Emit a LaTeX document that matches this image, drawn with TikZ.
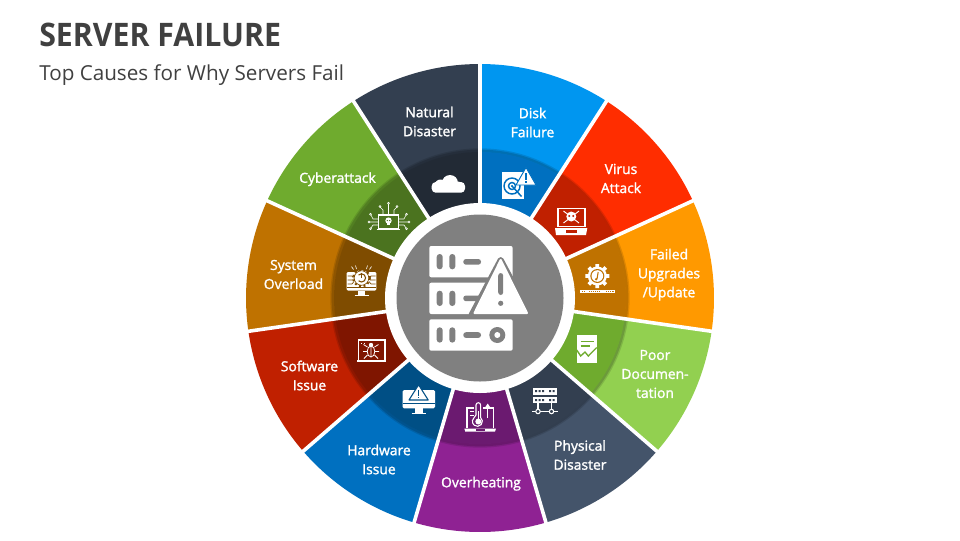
\documentclass[tikz,border=0pt]{standalone}
\usepackage{fontspec}
\setmainfont{Open Sans}
\newfontfamily\lblfont[FakeBold=1.6]{Open Sans}
\newfontfamily\titlefont[FakeStretch=0.935]{Open Sans}
\definecolor{diskA}{RGB}{0,150,240}
\definecolor{diskB}{RGB}{0,112,192}
\definecolor{virusA}{RGB}{255,45,0}
\definecolor{virusB}{RGB}{192,32,0}
\definecolor{failA}{RGB}{255,153,0}
\definecolor{failB}{RGB}{191,114,0}
\definecolor{poorA}{RGB}{146,208,80}
\definecolor{poorB}{RGB}{111,171,46}
\definecolor{physA}{RGB}{68,84,106}
\definecolor{physB}{RGB}{51,63,80}
\definecolor{heatA}{RGB}{143,34,147}
\definecolor{heatB}{RGB}{107,26,112}
\definecolor{hardA}{RGB}{0,112,192}
\definecolor{hardB}{RGB}{0,79,133}
\definecolor{softA}{RGB}{192,32,0}
\definecolor{softB}{RGB}{127,21,0}
\definecolor{sysA}{RGB}{191,114,0}
\definecolor{sysB}{RGB}{127,76,0}
\definecolor{cybA}{RGB}{111,171,46}
\definecolor{cybB}{RGB}{75,115,31}
\definecolor{natA}{RGB}{51,63,80}
\definecolor{natB}{RGB}{34,42,53}
\definecolor{hubgray}{RGB}{128,128,128}
\definecolor{titleink}{RGB}{64,64,64}
\def\seg#1#2#3#4{\fill[#4] (480,298) -- ++(#1:#3) arc (#1:#2:#3) -- cycle;}
\tikzset{
  lbl/.style={text=white,align=center,font=\lblfont\fontsize{10.4pt}{14.25pt}\selectfont,inner sep=0pt},
  gap/.style={draw=white,line width=2.7pt},
  wline/.style={draw=white,line width=0.8pt},
  thin wline/.style={draw=white,line width=0.45pt}
}
\begin{document}
\begin{tikzpicture}[x=0.75pt,y=0.75pt,yscale=-1,xscale=1]
	\useasboundingbox (0,0) rectangle (960,540);
	\fill[white] (0,0) rectangle (960,540);
	% outer ring
	\seg{-90}{-57.27}{234}{diskA}
	\seg{-57.27}{-24.55}{234}{virusA}
	\seg{-24.55}{8.18}{234}{failA}
	\seg{8.18}{40.91}{234}{poorA}
	\seg{40.91}{73.64}{234}{physA}
	\seg{73.64}{106.36}{234}{heatA}
	\seg{106.36}{139.09}{234}{hardA}
	\seg{139.09}{171.82}{234}{softA}
	\seg{171.82}{204.55}{234}{sysA}
	\seg{204.55}{237.27}{234}{cybA}
	\seg{237.27}{270}{234}{natA}
	\draw[black,opacity=0.12,line width=4pt] (480,298) circle (147);
	\draw[black,opacity=0.15,line width=2pt] (480,298) circle (147);
	% inner ring
	\seg{-90}{-57.27}{146}{diskB}
	\seg{-57.27}{-24.55}{146}{virusB}
	\seg{-24.55}{8.18}{146}{failB}
	\seg{8.18}{40.91}{146}{poorB}
	\seg{40.91}{73.64}{146}{physB}
	\seg{73.64}{106.36}{146}{heatB}
	\seg{106.36}{139.09}{146}{hardB}
	\seg{139.09}{171.82}{146}{softB}
	\seg{171.82}{204.55}{146}{sysB}
	\seg{204.55}{237.27}{146}{cybB}
	\seg{237.27}{270}{146}{natB}
	% gaps
	\draw[gap] (480,298) -- ++(-90:236);
	\draw[gap] (480,298) -- ++(-57.27:236);
	\draw[gap] (480,298) -- ++(-24.55:236);
	\draw[gap] (480,298) -- ++(8.18:236);
	\draw[gap] (480,298) -- ++(40.91:236);
	\draw[gap] (480,298) -- ++(73.64:236);
	\draw[gap] (480,298) -- ++(106.36:236);
	\draw[gap] (480,298) -- ++(139.09:236);
	\draw[gap] (480,298) -- ++(171.82:236);
	\draw[gap] (480,298) -- ++(204.55:236);
	\draw[gap] (480,298) -- ++(237.27:236);
	% hub
	\fill[white] (480,298) circle (95);
	\fill[hubgray] (480,298) circle (83.5);
	\fill[white,rounded corners=1.5pt] (429.3,246) rectangle (512.7,277.3);
	\fill[white,rounded corners=1.5pt] (429.3,282.7) rectangle (495,314);
	\fill[white,rounded corners=1.5pt] (429.3,319.3) rectangle (512.7,350.7);
	\fill[hubgray,rounded corners=2.2pt] (436.7,254) rectangle (442.7,269.3);
	\fill[hubgray,rounded corners=2.2pt] (449.3,254) rectangle (455.3,269.3);
	\fill[hubgray,rounded corners=2pt] (463.3,259) rectangle (481,264.7);
	\fill[hubgray,rounded corners=2.2pt] (436.7,290.7) rectangle (442.7,306);
	\fill[hubgray,rounded corners=2.2pt] (449.3,290.7) rectangle (455.3,306);
	\fill[hubgray,rounded corners=2pt] (463.3,295.5) rectangle (481,301.2);
	\fill[hubgray,rounded corners=2.2pt] (436.7,327.3) rectangle (442.7,342.6);
	\fill[hubgray,rounded corners=2.2pt] (449.3,327.3) rectangle (455.3,342.6);
	\fill[hubgray,rounded corners=2pt] (463.3,332.2) rectangle (481,337.9);
	\fill[hubgray] (497.3,335) circle (8);
	\fill[white] (497.3,335) circle (3);
	\draw[hubgray,fill=white,line width=4.5pt,line join=round] (500.7,260) -- (530,315) -- (471.5,315) -- cycle;
	\fill[white,line join=round,draw=white,line width=1.5pt] (500.7,260) -- (527,313) -- (474.5,313) -- cycle;
	\fill[hubgray,rounded corners=2pt] (498.2,273) rectangle (503.2,295);
	\fill[hubgray] (500.7,303.3) circle (2.6);
	% natural disaster cloud
	\fill[white,rounded corners=3pt] (431.7,182) rectangle (465,192.7);
	\fill[white] (440.5,185.5) circle (6);
	\fill[white] (450,183) circle (8);
	\fill[white] (458.5,186.5) circle (5);
	% disk
	\fill[white] (502,172.3) rectangle (524.3,199.3);
	\draw[diskB,line width=1.1pt] (512,186) circle (8);
	\draw[diskB,line width=1.1pt] (512,186) circle (3.5);
	\fill[diskB] (512,186) circle (1.2);
	\draw[diskB,line width=1.1pt] (512,186) -- (521.5,196.5);
	\draw[diskB,fill=white,line width=0.7pt,line join=round] (526,167.5) -- (536,185) -- (516,185) -- cycle;
	\draw[diskB,line width=1pt] (526,173) -- (526,179.5) (526,181) -- (526,182.5);
	% virus laptop
	\draw[wline,fill=virusB] (558,208.5) rectangle (585,226.5);
	\fill[white] (555,228) -- (587.3,228) -- (586,235) -- (556,235) -- cycle;
	\fill[virusB] (566,230) rectangle (576.5,233);
	\draw[white,line width=0.7pt] (563.5,211) -- (579,223) (579,211) -- (563.5,223);
	\fill[white] (571.3,216.5) circle (5);
	\fill[virusB] (569.3,216) circle (1.1) (573.3,216) circle (1.1);
	% upgrade gear
	\draw[white,line width=2.8pt] (585.3,276) -- (609.3,276) (597.3,264) -- (597.3,288) (588.8,267.5) -- (605.8,284.5) (605.8,267.5) -- (588.8,284.5);
	\fill[white] (597.3,276) circle (9.5);
	\fill[failB] (597.3,276) circle (7);
	\fill[white] (597.3,276) circle (5.8);
	\draw[failB,line width=0.8pt] (598.2,272) -- (597,279);
	\fill[failB] (596.2,279.2) circle (1.3);
	\draw[thin wline] (580,290) rectangle (614,292.7);
	\draw[white,line width=1pt,dash pattern=on 1pt off 0.6pt] (581,291.35) -- (613,291.35);
	% poor documentation page
	\fill[white] (576.7,335) -- (596.7,335) -- (596.7,362.7) -- (576.7,362.7) -- cycle;
	\draw[poorB,line width=0.8pt] (580.5,341.7) -- (593.5,341.7) (580.5,346) -- (590,346);
	\draw[poorB,line width=1pt] (576.7,350) -- (580.7,356) -- (585,352) -- (588.3,356) -- (596.7,347.5);
	% physical disaster rack
	\fill[white] (532.7,387.7) rectangle (557.3,394.7);
	\fill[white] (532.7,396.5) rectangle (557.3,403.3);
	\fill[physB] (535,390) rectangle (537,392) (538.5,390) rectangle (540.5,392) (542,390) rectangle (544,392) (549,390) rectangle (551,392) (552.5,390) rectangle (554.5,392);
	\fill[physB] (535,399) rectangle (537,401) (538.5,399) rectangle (540.5,401) (542,399) rectangle (544,401) (549,399) rectangle (551,401) (552.5,399) rectangle (554.5,401);
	\draw[wline] (538,403) -- (538,411) (551.5,403) -- (551.5,411) (532,411.5) -- (558,411.5);
	\draw[wline,fill=physB] (538,411.5) circle (2.2);
	\draw[wline,fill=physB] (551.5,411.5) circle (2.2);
	% overheating laptop
	\draw[wline] (467,428) -- (467,408) -- (474,408) (483,408) -- (493.3,408) -- (493.3,428);
	\fill[white] (464.3,428.5) -- (496,428.5) -- (495,431.7) -- (465.3,431.7) -- cycle;
	\fill[heatB] (475.5,429.3) rectangle (485,430.5);
	\draw[white,fill=heatB,line width=0.8pt] (476,415) -- (476,405) arc (180:360:2.3) -- (480.6,415) -- (480.6,417.5) arc (-50:230:5) -- cycle;
	\fill[white] (478.3,421.5) circle (3);
	\draw[wline] (478.3,411) -- (478.3,421);
	\draw[wline] (487.7,418) -- (487.7,406);
	\fill[white] (484.7,408) -- (487.7,403.5) -- (490.7,408) -- cycle;
	\draw[thin wline] (470,407.5) -- (473.5,407.5) (470,411.5) -- (473.5,411.5) (470,415.5) -- (473.5,415.5);
	% hardware monitor
	\fill[white,rounded corners=1pt] (402.7,390) rectangle (435,408.3);
	\draw[hardB,line width=0.6pt] (402.7,403.5) -- (435,403.5);
	\fill[white] (415,408) rectangle (423.3,413);
	\draw[wline] (411.7,413.7) -- (426,413.7);
	\draw[hardB,fill=white,line width=0.8pt,line join=round] (418.6,384.8) -- (428.2,400) -- (409,400) -- cycle;
	\draw[hardB,line width=1pt] (418.6,390) -- (418.6,395.5) (418.6,396.8) -- (418.6,398.2);
	% software bug laptop
	\draw[wline] (358.3,360) -- (358.3,340) -- (385,340) -- (385,360);
	\fill[white] (357.3,360.2) rectangle (386,361.7);
	\draw[white,line width=0.6pt,fill=softB] (371,351.5) ellipse (3.8 and 5.5);
	\fill[white] (371,345) circle (2.2);
	\draw[white,line width=0.6pt] (367.5,347) -- (363.5,344.5) (367.2,351.5) -- (363,351.5) (367.5,355) -- (364,358.5) (374.5,347) -- (378.5,344.5) (374.8,351.5) -- (379,351.5) (374.5,355) -- (378,358.5) (371,347) -- (371,357);
	\draw[thin wline,dotted] (361,343) -- (365,343);
	% system overload monitor
	\fill[white,rounded corners=0.8pt] (346.7,272) rectangle (376.3,290.5);
	\draw[sysB,line width=0.5pt] (346.7,287) -- (376.3,287);
	\draw[sysB,line width=0.5pt] (347.5,276) -- (352,276) -- (354,278.5) (347.5,280) -- (353,280) (347.5,284) -- (352,284) -- (354,281.5);
	\draw[sysB,line width=0.5pt] (375.5,276) -- (371,276) -- (369,278.5) (375.5,280) -- (370,280) (375.5,284) -- (371,284) -- (369,281.5);
	\fill[white] (361.5,278) circle (8);
	\draw[sysB,line width=0.5pt] (361.5,278) circle (7.3);
	\draw[sysB,line width=1.6pt,dash pattern=on 1.4pt off 2pt] (361.5,278) circle (8.3);
	\draw[sysB,line width=0.8pt] (358.6,275) arc (225:495:4.1);
	\draw[sysB,line width=0.8pt] (361.5,272.5) -- (361.5,277.5);
	\fill[white] (358,290.5) rectangle (365,294.5);
	\draw[wline] (354.5,295.3) -- (368.5,295.3);
	\draw[thin wline] (351.5,266.5) -- (353.5,269.5) (355.5,265.5) -- (356.5,269) (371.5,266.5) -- (369.5,269.5) (367.5,265.5) -- (366.5,269);
	% cyberattack laptop
	\draw[wline,fill=cybB] (378.8,215) rectangle (398.3,228.3);
	\draw[wline] (376.7,229.3) -- (400,229.3);
	\fill[white] (388.5,220.6) circle (3.2);
	\fill[white] (386.8,222.8) rectangle (390.2,225);
	\fill[cybB] (387.3,220.5) circle (0.7) (389.7,220.5) circle (0.7);
	\draw[thin wline] (383,215) -- (383,210) -- (380,207) (388.5,215) -- (388.5,204) (394,215) -- (394,210) -- (397,207);
	\draw[thin wline] (378.8,219) -- (373,219) -- (371,215) (378.8,222) -- (370,222) (378.8,225) -- (373,225) -- (371,228);
	\draw[thin wline] (398.3,219) -- (404,219) -- (406,215) (398.3,222) -- (408,222) (398.3,225) -- (404,225) -- (406,228);
	\draw[thin wline] (380,206.5) circle (1) (388.5,203.3) circle (1) (397,206.5) circle (1) (370.5,214.3) circle (1) (369,222) circle (1) (370.5,228.7) circle (1) (406.5,214.3) circle (1) (409,222) circle (1) (406.5,228.7) circle (1);
	% text
	\node[anchor=west,inner sep=0pt,text=titleink,font=\titlefont\bfseries\fontsize{24.3pt}{29pt}\selectfont] (titleA) at (39,34.5) {SERVER FAILURE};
	\node[anchor=west,inner sep=0pt,text=titleink,font=\fontsize{15.5pt}{19pt}\selectfont] (titleB) at (39,75) {Top Causes for Why Servers Fail};
	\node[lbl] (lblNat) at (429.5,121.5) {Natural\\Disaster};
	\node[lbl] (lblDisk) at (532.5,122.5) {Disk\\Failure};
	\node[lbl] (lblVirus) at (621,178.5) {Virus\\Attack};
	\node[lbl] (lblFail) at (669,274.7) {Failed\\Upgrades\\/Update};
	\node[lbl] (lblPoor) at (655,374) {Poor\\Documen-\\tation};
	\node[lbl] (lblPhys) at (580,455) {Physical\\Disaster};
	\node[lbl] (lblHeat) at (481,483.7) {Overheating};
	\node[lbl] (lblHard) at (379,459.5) {Hardware\\Issue};
	\node[lbl] (lblSoft) at (309.5,375.5) {Software\\Issue};
	\node[lbl] (lblSys) at (293.5,274.5) {System\\Overload};
	\node[lbl] (lblCyb) at (337.5,179.2) {Cyberattack};
\end{tikzpicture}
\end{document}
